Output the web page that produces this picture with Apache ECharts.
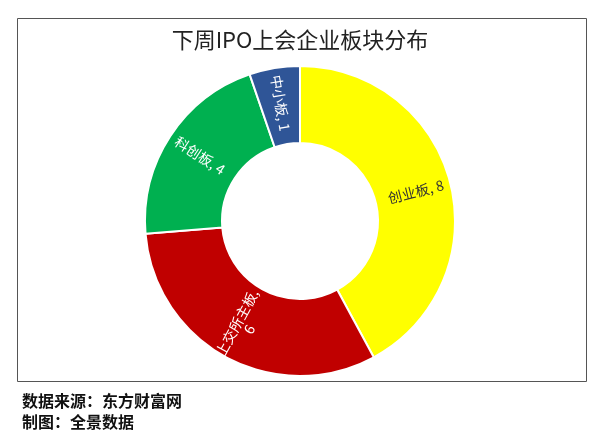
<!DOCTYPE html>
<html><head><meta charset="utf-8">
<script src="https://cdn.jsdelivr.net/npm/echarts@6/dist/echarts.min.js"></script>
<style>html,body{margin:0;padding:0;background:#fff}#c{width:600px;height:448px}</style>
</head><body><div id="c"></div>
<script>
const categories = ['创业板', '上交所主板', '科创板', '中小板'];
const values = [8, 6, 4, 1];
const colors = ['#FFFF00', '#C00000', '#00B050', '#2F5597'];
const labelColors = ['#333333', '#ffffff', '#ffffff', '#ffffff'];
const titleText = '下周IPO上会企业板块分布';
const footLines = ['数据来源：东方财富网', '制图：全景数据'];

const chart = echarts.init(document.getElementById('c'), null, {renderer: 'canvas'});
chart.setOption({
  backgroundColor: '#fff',
  animation: false,
  title: {
    text: titleText, left: 'center', top: 24,
    textStyle: {fontFamily: 'Noto Sans CJK SC', fontWeight: 'normal', fontSize: 22, color: '#222'}
  },
  graphic: [
    {type: 'rect', shape: {x: 17.5, y: 18.5, width: 569, height: 363},
     style: {fill: 'none', stroke: '#555', lineWidth: 1}},
    {type: 'text', left: 22, top: 393, style: {text: footLines[0], font: 'bold 16px "Noto Sans CJK SC"', fill: '#111'}},
    {type: 'text', left: 22, top: 414, style: {text: footLines[1], font: 'bold 16px "Noto Sans CJK SC"', fill: '#111'}}
  ],
  series: [{
    type: 'pie',
    center: [300, 221],
    radius: [78, 155],
    startAngle: 90,
    clockwise: true,
    avoidLabelOverlap: false,
    itemStyle: {borderColor: '#fff', borderWidth: 2},
    label: {
      show: true, position: 'inside', rotate: 'radial',
      fontFamily: 'Noto Sans CJK SC', fontSize: 14
    },
    labelLine: {show: false},
    data: categories.map((n, i) => ({
      name: n, value: values[i],
      itemStyle: {color: colors[i]},
      label: {color: labelColors[i], formatter: n.length > 3 ? '{b},\n{c}' : '{b}, {c}'}
    }))
  }]
});
</script></body></html>
